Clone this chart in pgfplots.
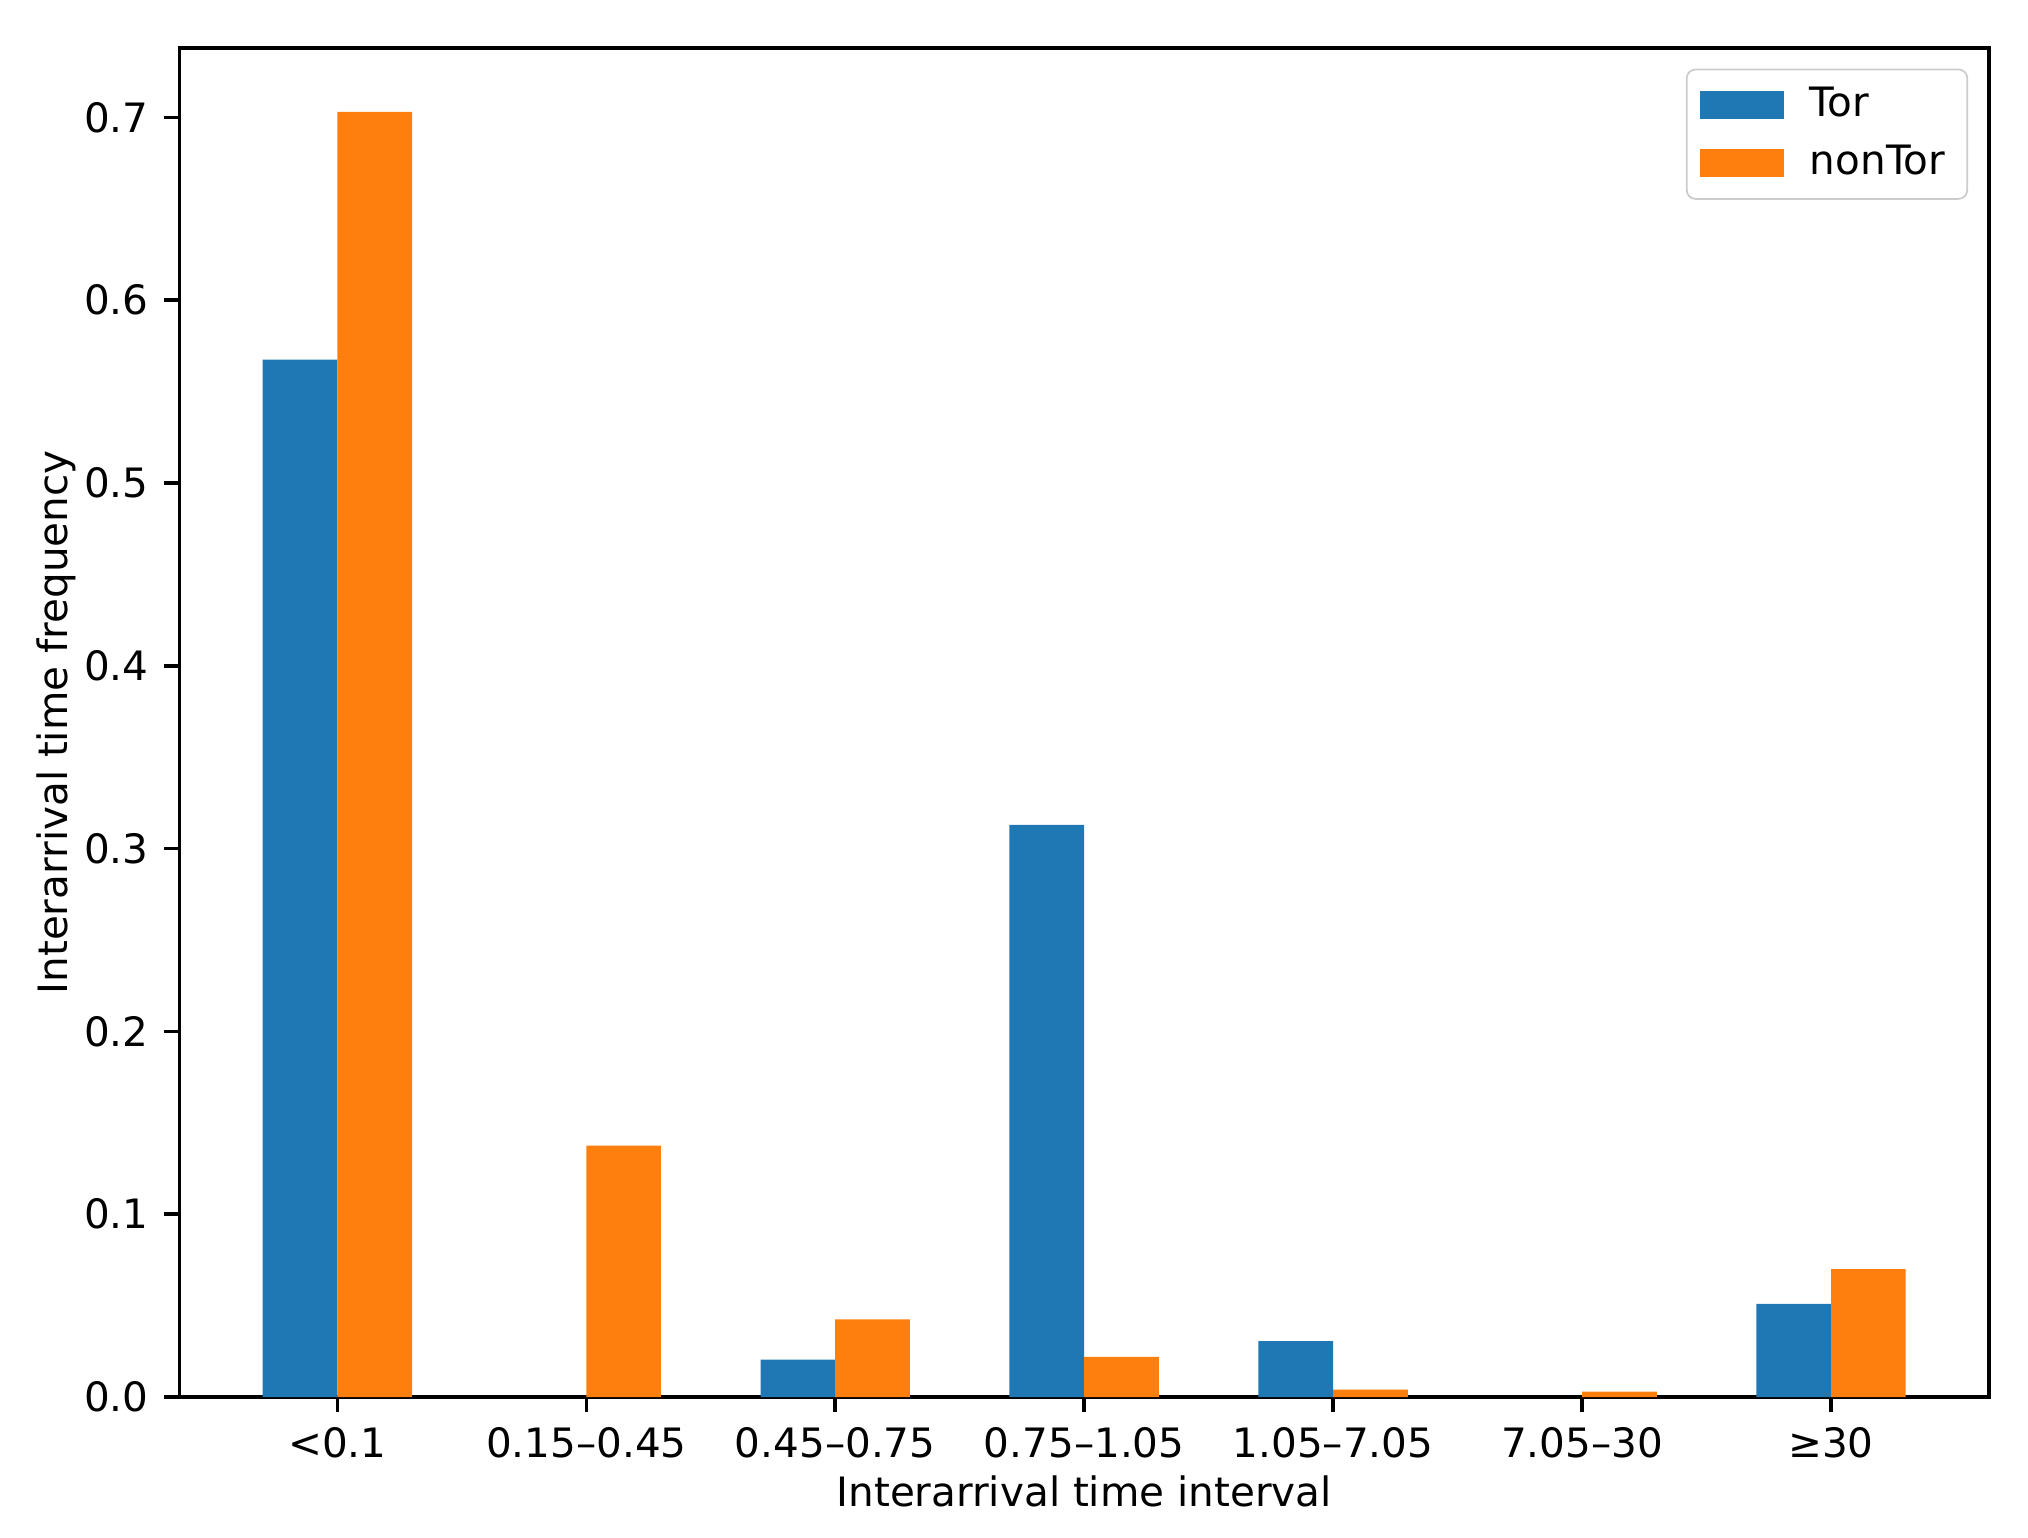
\documentclass[border=0pt]{standalone}
\usepackage{fontspec}
\setmainfont{DejaVu Sans}
\usepackage{pgfplots}
\pgfplotsset{compat=1.18}
\definecolor{torblue}{HTML}{1F77B4}
\definecolor{nonorange}{HTML}{FF7F0E}
\begin{document}
\begin{tikzpicture}
\path[use as bounding box] (-40.8pt,-32.0pt) rectangle (420.1pt,317.5pt);
\begin{axis}[
  at={(0pt,0pt)}, anchor=south west,
  scale only axis,
  width=411.2pt, height=306.6pt,
  xmin=-0.634, xmax=6.634,
  ymin=0, ymax=0.738,
  axis line style={line width=0.8pt, black},
  xtick={0,1,2,3,4,5,6},
  xticklabels={{<0.1},{0.15–0.45},{0.45–0.75},{0.75–1.05},{1.05–7.05},{7.05–30},{≥30}},
  ytick={0,0.1,0.2,0.3,0.4,0.5,0.6,0.7},
  yticklabel style={/pgf/number format/fixed,/pgf/number format/fixed zerofill,/pgf/number format/precision=1},
  /pgf/number format/assume math mode=true,
  tick align=outside,
  major tick length=3.5pt,
  tick style={line width=0.8pt, black},
  xtick pos=bottom, ytick pos=left,
  tick label style={font=\fontsize{9.2}{11}\selectfont},
  label style={font=\fontsize{9.2}{11}\selectfont},
  xlabel={Interarrival time interval},
  ylabel={Interarrival time frequency},
  xlabel style={yshift=3pt},
  ylabel style={yshift=-5pt},
  ybar,
  bar width=0.3,
  legend style={at={(1,1)}, anchor=north east, xshift=-4.7pt, yshift=-4.7pt,
    draw=black!20, rounded corners=2pt, font=\fontsize{9.2}{11}\selectfont,
    row sep=1pt, inner xsep=3pt, inner ysep=2pt},
  legend cell align=left,
  legend image code/.code={\fill[#1, sharp corners] (0pt,-3.2pt) rectangle (19pt,3.2pt);},
]
\addplot[fill=torblue, draw=none, bar shift=-0.15] coordinates {
  (0,0.5675) (2,0.0205) (3,0.313) (4,0.0305) (6,0.051)
};
\addlegendentry{\hspace{4pt}Tor}
\addplot[fill=nonorange, draw=none, bar shift=0.15] coordinates {
  (0,0.703) (1,0.1375) (2,0.0425) (3,0.022) (4,0.004) (5,0.003) (6,0.070)
};
\addlegendentry{\hspace{4pt}nonTor}
\end{axis}
\end{tikzpicture}
\end{document}
